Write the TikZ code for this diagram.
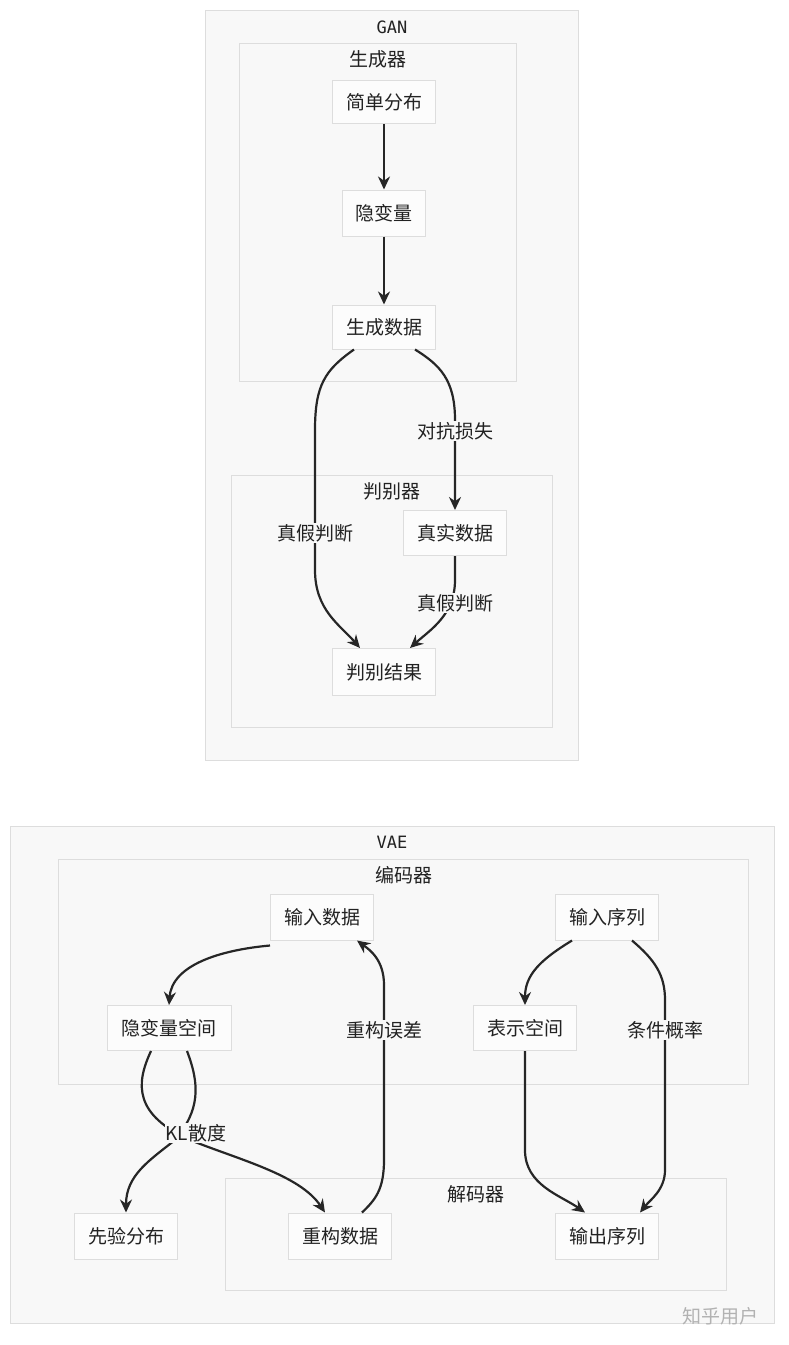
\documentclass[tikz,border=0pt]{standalone}
\usepackage{fontspec}
\setmainfont{Noto Sans CJK SC}
\newfontfamily\monof{DejaVu Sans Mono}
\usetikzlibrary{arrows.meta}
\definecolor{clfill}{HTML}{F8F8F8}
\definecolor{clline}{HTML}{DDDDDD}
\definecolor{txt}{HTML}{222222}
\tikzset{
  cluster/.style={draw=clline,fill=clfill,line width=0.8pt},
  box/.style={draw=clline,fill=white!60!clfill,line width=1pt,inner sep=0pt,font=\fontsize{19}{21}\selectfont,text=txt},
  lbl/.style={font=\fontsize{19}{21}\selectfont,text=txt,fill=clfill,inner sep=1pt},
  ctitle/.style={font=\fontsize{19}{21}\selectfont,text=txt},
  mtitle/.style={font=\monof\fontsize{17}{19}\selectfont,text=txt},
  arr/.style={-{Stealth[length=13pt,width=12pt]},line width=2.2pt,draw=black!85}
}
\begin{document}
\begin{tikzpicture}[x=1pt,y=-1pt]
\useasboundingbox[fill=white] (0,0) rectangle (789,1345);
% GAN
\draw[cluster] (205,10) rectangle (578,760);
\node[mtitle] (tg) at (392,27) {GAN};
\draw[cluster] (239,43) rectangle (516,381);
\node[ctitle] (tgen) at (378,59) {生成器};
\draw[cluster] (231,475) rectangle (552,727);
\node[ctitle] (tdis) at (392,491) {判别器};
\node[box,minimum width=103pt,minimum height=43pt] (a) at (384,102) {简单分布};
\node[box,minimum width=83pt,minimum height=46pt] (b) at (384,213) {隐变量};
\node[box,minimum width=103pt,minimum height=44pt] (c) at (384,327) {生成数据};
\node[box,minimum width=103pt,minimum height=45pt] (d) at (455,533) {真实数据};
\node[box,minimum width=103pt,minimum height=47pt] (e) at (384,672) {判别结果};
\draw[arr] (a) -- (b);
\draw[arr] (b) -- (c);
\draw[arr] ([xshift=31pt]c.south) .. controls (440,365) and (455,380) .. (455,420) -- (d.north);
\node[lbl] (l1) at (455,431) {对抗损失};
\draw[arr] ([xshift=-30pt]c.south) .. controls (325,370) and (315,385) .. (315,430) -- (315,570) .. controls (315,610) and (340,625) .. ([xshift=-24pt]e.north);
\node[lbl] (l2) at (315,533) {真假判断};
\draw[arr] (d.south) -- (455,580) .. controls (455,615) and (430,630) .. ([xshift=26pt]e.north);
\node[lbl] (l3) at (455,603) {真假判断};
% VAE
\draw[cluster] (10,826) rectangle (774,1323);
\node[mtitle] (tv) at (392,842) {VAE};
\draw[cluster] (58,859) rectangle (748,1084);
\node[ctitle] (tenc) at (404,875) {编码器};
\draw[cluster] (225,1178) rectangle (726,1290);
\node[ctitle] (tdec) at (476,1194) {解码器};
\node[box,minimum width=103pt,minimum height=46pt] (p) at (322,917) {输入数据};
\node[box,minimum width=124pt,minimum height=45pt] (q) at (169,1028) {隐变量空间};
\node[box,minimum width=103pt,minimum height=46pt] (r) at (607,917) {输入序列};
\node[box,minimum width=103pt,minimum height=45pt] (s) at (525,1028) {表示空间};
\node[box,minimum width=103pt,minimum height=46pt] (t) at (126,1236) {先验分布};
\node[box,minimum width=103pt,minimum height=46pt] (u) at (340,1236) {重构数据};
\node[box,minimum width=103pt,minimum height=46pt] (v) at (607,1236) {输出序列};
\draw[arr] ([yshift=-5pt]p.south west) .. controls (220,950) and (172,965) .. (q.north);
\draw[arr] ([xshift=-18pt]q.south) .. controls (135,1085) and (135,1115) .. (190,1140) .. controls (240,1160) and (300,1175) .. ([xshift=-15pt]u.north);
\draw[arr] ([xshift=18pt]q.south) .. controls (200,1085) and (200,1110) .. (175,1140) .. controls (150,1160) and (126,1175) .. (t.north);
\node[lbl] (l4) at (196,1133) {KL散度};
\draw[arr] ([xshift=22pt]u.north) .. controls (375,1200) and (384,1190) .. (384,1160) -- (384,985) .. controls (384,960) and (370,950) .. ([xshift=35pt]p.south);
\node[lbl] (l5) at (384,1030) {重构误差};
\draw[arr] ([xshift=-35pt]r.south) .. controls (540,960) and (525,975) .. (s.north);
\draw[arr] (s.south) -- (525,1150) .. controls (525,1185) and (560,1195) .. ([xshift=-22pt]v.north);
\draw[arr] ([xshift=25pt]r.south) .. controls (655,960) and (665,975) .. (665,1000) -- (665,1170) .. controls (665,1190) and (650,1200) .. ([xshift=33pt]v.north);
\node[lbl] (l6) at (665,1030) {条件概率};
\node[font=\fontsize{19}{21}\selectfont,text=black!30] (wm) at (720,1316) {知乎用户};
\end{tikzpicture}
\end{document}
